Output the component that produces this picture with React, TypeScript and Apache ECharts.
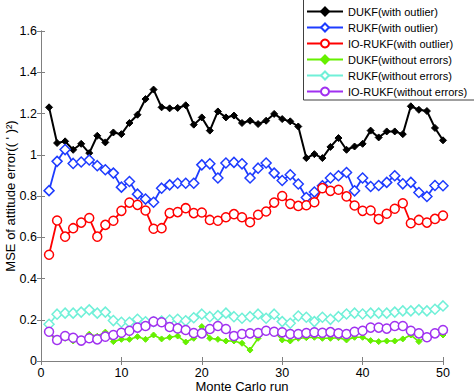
import React, { useEffect, useRef } from 'react';
import * as echarts from 'echarts';

const runs = [1,2,3,4,5,6,7,8,9,10,11,12,13,14,15,16,17,18,19,20,21,22,23,24,25,26,27,28,29,30,31,32,33,34,35,36,37,38,39,40,41,42,43,44,45,46,47,48,49,50];

const dukfOutlier = [1.23,1.057,1.065,1.024,1.053,1.008,1.092,1.06,1.108,1.10,1.154,1.194,1.27,1.316,1.23,1.225,1.227,1.24,1.146,1.181,1.117,1.21,1.181,1.19,1.154,1.165,1.149,1.165,1.198,1.173,1.162,1.137,0.984,1.003,0.984,1.038,1.081,1.024,1.04,1.053,1.117,1.084,1.113,1.113,1.10,1.235,1.218,1.212,1.13,1.07];
const rukfOutlier = [0.826,0.968,1.025,0.958,0.965,0.975,0.947,0.927,0.911,0.843,0.87,0.809,0.785,0.77,0.838,0.854,0.862,0.862,0.862,0.951,0.956,0.887,0.96,0.963,0.956,0.887,0.935,0.96,0.911,0.875,0.903,0.858,0.793,0.819,0.85,0.887,0.898,0.914,0.825,0.887,0.846,0.851,0.866,0.898,0.859,0.866,0.817,0.798,0.851,0.85];
const ioRukfOutlier = [0.515,0.681,0.603,0.644,0.671,0.693,0.603,0.66,0.68,0.728,0.768,0.757,0.73,0.641,0.644,0.717,0.722,0.741,0.717,0.72,0.684,0.68,0.697,0.712,0.697,0.673,0.709,0.725,0.768,0.80,0.762,0.752,0.755,0.77,0.838,0.825,0.83,0.798,0.754,0.728,0.73,0.688,0.714,0.738,0.765,0.668,0.684,0.671,0.689,0.705];
const dukfClean = [0.14,0.094,0.11,0.097,0.094,0.13,0.12,0.14,0.094,0.105,0.105,0.118,0.105,0.126,0.107,0.115,0.121,0.092,0.11,0.167,0.11,0.105,0.097,0.097,0.086,0.053,0.11,0.147,0.142,0.102,0.097,0.11,0.113,0.115,0.11,0.11,0.113,0.102,0.115,0.115,0.099,0.094,0.097,0.097,0.107,0.126,0.094,0.121,0.139,0.126];
const rukfClean = [0.178,0.227,0.232,0.232,0.237,0.248,0.232,0.237,0.196,0.188,0.188,0.202,0.19,0.19,0.194,0.199,0.202,0.195,0.21,0.227,0.215,0.22,0.232,0.215,0.207,0.215,0.227,0.207,0.227,0.191,0.183,0.218,0.212,0.191,0.212,0.202,0.215,0.228,0.232,0.228,0.232,0.232,0.232,0.237,0.243,0.243,0.248,0.243,0.251,0.267];
const ioRukfClean = [0.142,0.102,0.121,0.113,0.099,0.11,0.105,0.118,0.126,0.137,0.147,0.162,0.17,0.191,0.188,0.165,0.158,0.15,0.136,0.134,0.155,0.17,0.155,0.121,0.131,0.134,0.136,0.147,0.142,0.139,0.131,0.131,0.136,0.139,0.137,0.14,0.134,0.131,0.142,0.147,0.162,0.162,0.157,0.17,0.17,0.147,0.134,0.115,0.134,0.15];

const seriesNames = [
  'DUKF(with outlier)',
  'RUKF(with outlier)',
  'IO-RUKF(with outlier)',
  'DUKF(without errors)',
  'RUKF(without errors)',
  'IO-RUKF(without errors)',
];
const seriesColors = ['#000000', '#1e3cff', '#ff0000', '#66f000', '#70f0d8', '#a030f0'];

const FONT = 'Liberation Sans, Arial, sans-serif';

export default function App() {
  const ref = useRef<HTMLDivElement>(null);
  useEffect(() => {
    if (!ref.current) return;
    const chart = echarts.init(ref.current, undefined, { renderer: 'svg' });
    const pair = (vals: number[]) => runs.map((r, i) => [r, vals[i]]);
    const mk = (idx: number, vals: number[], symbol: string, size: number, filled: boolean, width: number) => ({
      name: seriesNames[idx],
      type: 'line',
      data: pair(vals),
      symbol,
      symbolSize: size,
      showSymbol: true,
      lineStyle: { color: seriesColors[idx], width },
      itemStyle: filled
        ? { color: seriesColors[idx], borderColor: seriesColors[idx], borderWidth: 1 }
        : { color: '#ffffff', borderColor: seriesColors[idx], borderWidth: 1.5 },
      z: 2 + idx * 0.01,
    });
    const axisLine = { show: true, lineStyle: { color: '#808080', width: 1 } };
    const tick = { show: true, inside: true, length: 4, lineStyle: { color: '#808080' } };
    chart.setOption({
      animation: false,
      backgroundColor: '#ffffff',
      grid: { left: 41, right: 31, top: 31, bottom: 30, containLabel: false, outerBoundsMode: 'none' },
      xAxis: [
        {
          type: 'value', min: 0, max: 50, interval: 10,
          axisLine, axisTick: tick,
          axisLabel: { color: '#000', fontFamily: FONT, fontSize: 12.5, margin: 5 },
          splitLine: { show: false },
          name: 'Monte Carlo run', nameLocation: 'middle', nameGap: 19, nameMoveOverlap: false,
          nameTextStyle: { color: '#000', fontFamily: FONT, fontSize: 13 },
        },
        {
          type: 'value', min: 0, max: 50, interval: 10, position: 'top',
          axisLine, axisTick: tick,
          axisLabel: { show: false }, splitLine: { show: false },
        },
      ],
      yAxis: [
        {
          type: 'value', min: 0, max: 1.6, interval: 0.2,
          axisLine, axisTick: tick,
          axisLabel: { color: '#000', fontFamily: FONT, fontSize: 12.5, margin: 4 },
          splitLine: { show: false },
          name: "MSE of attitude error(( ' )²)", nameLocation: 'middle', nameGap: 24, nameMoveOverlap: false,
          nameTextStyle: { color: '#000', fontFamily: FONT, fontSize: 13 },
        },
        {
          type: 'value', min: 0, max: 1.6, interval: 0.2, position: 'right',
          axisLine, axisTick: tick,
          axisLabel: { show: false }, splitLine: { show: false },
        },
      ],
      legend: {
        orient: 'vertical',
        left: 306,
        top: 6,
        itemWidth: 36,
        itemHeight: 10,
        itemGap: 5,
        padding: 0,
        textStyle: { color: '#000', fontFamily: FONT, fontSize: 11, lineHeight: 10 },
        data: seriesNames,
        z: 10,
      },
      graphic: [
        {
          type: 'rect', z: 5, silent: true,
          shape: { x: 303.5, y: -2, width: 180, height: 102 },
          style: { fill: '#ffffff', stroke: '#404040', lineWidth: 1 },
        },
      ],
      series: [
        mk(0, dukfOutlier, 'diamond', 7, true, 2),
        mk(1, rukfOutlier, 'diamond', 10, false, 1.8),
        mk(2, ioRukfOutlier, 'circle', 9, false, 1.8),
        mk(3, dukfClean, 'diamond', 6, true, 1.6),
        mk(4, rukfClean, 'diamond', 10, false, 1.6),
        mk(5, ioRukfClean, 'circle', 9, false, 1.6),
      ],
    });
    return () => chart.dispose();
  }, []);
  return <div ref={ref} style={{ width: 474, height: 391, position: 'absolute', left: 0, top: 0 }} />;
}
